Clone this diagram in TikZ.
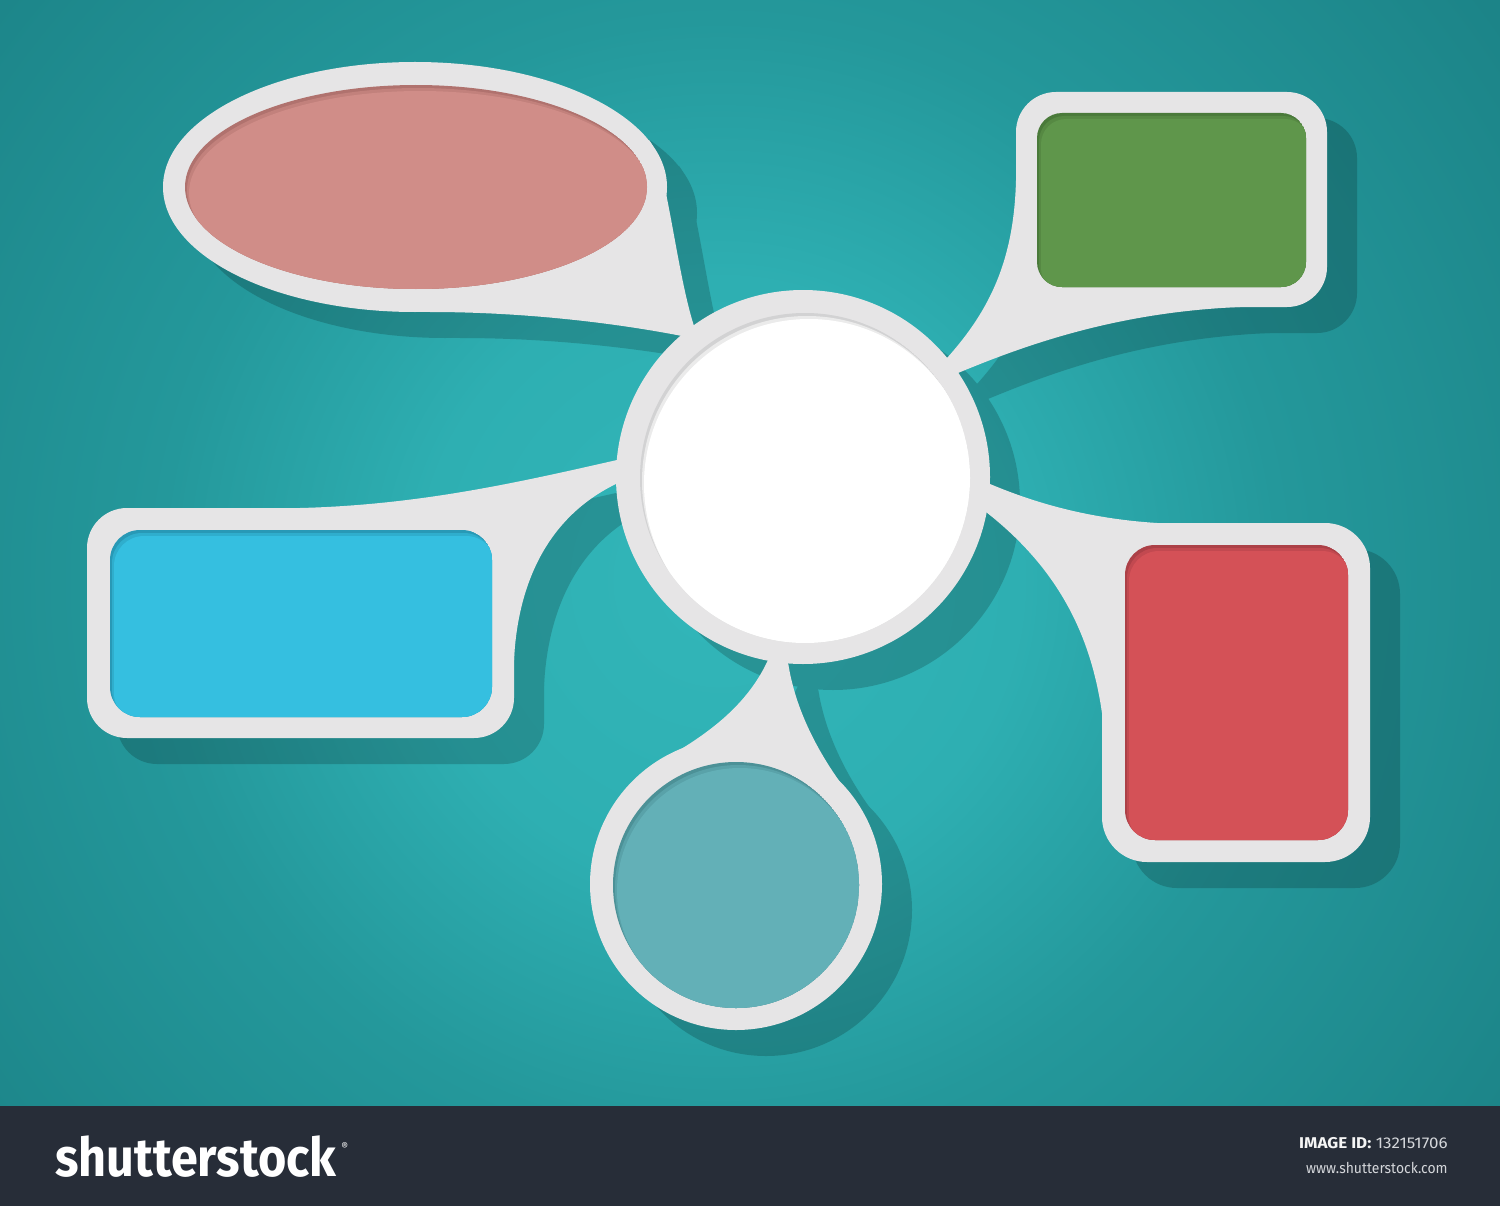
\documentclass[tikz,border=0pt]{standalone}
\usepackage{fontspec}
\setmainfont{Fira Sans}
\usepackage{graphicx}
\definecolor{bgC}{HTML}{32B6B9}
\definecolor{bgM}{HTML}{2EAFB2}
\definecolor{bgN}{HTML}{24989B}
\definecolor{bgE}{HTML}{1C8488}
\definecolor{ring}{HTML}{E6E5E6}
\definecolor{pinkF}{HTML}{D08D88}
\definecolor{pinkD}{HTML}{B0726E}
\definecolor{greenF}{HTML}{5F964B}
\definecolor{greenD}{HTML}{4A7A3A}
\definecolor{blueF}{HTML}{35BFE0}
\definecolor{blueD}{HTML}{2899B6}
\definecolor{redF}{HTML}{D45157}
\definecolor{redD}{HTML}{AC4047}
\definecolor{tealF}{HTML}{63B0B7}
\definecolor{tealD}{HTML}{4C9197}
\definecolor{whiteD}{HTML}{D2D2D3}
\definecolor{barC}{HTML}{272D38}
\definecolor{idgray}{HTML}{D4D6DA}
\pgfdeclareradialshading{bgshade}{\pgfpoint{0bp}{0bp}}{color(0bp)=(bgC); color(7.5bp)=(bgM); color(14bp)=(bgN); color(24bp)=(bgE); color(50bp)=(bgE)}
\newcommand\bubbles[1]{%
  \fill[#1] (803,477) circle (187);
  \fill[#1] (415,187) ellipse (252 and 125);
  \fill[#1,rounded corners=0.8cm] (1016,92) rectangle (1327,307);
  \fill[#1,rounded corners=0.8cm] (87,508) rectangle (514,738);
  \fill[#1,rounded corners=0.9cm] (1102,523) rectangle (1370,862);
  \fill[#1] (736,884) circle (146);
  % connector: ellipse -> centre
  \fill[#1] (649,140) .. controls (666,161) and (676,270) .. (694,326) -- (803,477) -- (682,336)
     .. controls (610,322) and (520,312) .. (430,312) -- (415,187) -- cycle;
  % connector: green box -> centre
  \fill[#1] (1016,180) .. controls (1014,260) and (990,310) .. (947,358) -- (803,477) -- (958,373)
     .. controls (1030,343) and (1120,312) .. (1240,307) -- (1170,200) -- cycle;
  % connector: blue box -> centre
  \fill[#1] (617,460) .. controls (520,482) and (420,505) .. (300,508) -- (300,620) -- (514,660)
     .. controls (518,580) and (550,515) .. (618,483) -- (803,477) -- cycle;
  % connector: red box -> centre
  \fill[#1] (990,484) .. controls (1040,505) and (1100,522) .. (1180,524) -- (1236,692) -- (1104,730)
     .. controls (1095,640) and (1060,570) .. (986,512) -- (803,477) -- cycle;
  % connector: bottom circle -> centre
  \fill[#1] (768,660) .. controls (745,710) and (700,740) .. (648,768) -- (736,884) -- (860,808)
     .. controls (820,760) and (795,710) .. (788,662) -- (803,477) -- cycle;
}
\newcommand\hole[3]{%
  \begin{scope}
    \clip #3;
    \fill[#1] #3;
    \fill[#2!55!#1, shift={(2,3)}] #3;
    \fill[#2, shift={(4,6)}] #3;
  \end{scope}}
\begin{document}
\begin{tikzpicture}[x=0.02cm,y=-0.02cm]
\useasboundingbox (0,0) rectangle (1500,1206);
% background
\begin{scope}
  \clip (0,0) rectangle (1500,1106);
  \fill[bgE] (0,0) rectangle (1500,1106);
  \shade[shading=bgshade] (720,580) circle (1000);
\end{scope}
% shadows
\begin{scope}[shift={(30,26)}, transparency group, opacity=0.18]
  \bubbles{black}
\end{scope}
% grey frames and connectors
\bubbles{ring}
% coloured insets
\hole{whiteD}{white}{(805,478) circle (165)}
\hole{pinkD}{pinkF}{(416,187) ellipse (231 and 102)}
\hole{greenD}{greenF}{[rounded corners=0.5cm] (1037,113) rectangle (1306,287)}
\hole{blueD}{blueF}{[rounded corners=0.6cm] (110,530) rectangle (492,717)}
\hole{redD}{redF}{[rounded corners=0.6cm] (1125,545) rectangle (1348,840)}
\hole{tealD}{tealF}{(736,885) circle (123)}
% bottom bar
\fill[barC] (0,1106) rectangle (1500,1206);
\node[anchor=south west, inner sep=0, text=white] (logo) at (55,1178)
  {\resizebox{160pt}{23.2pt}{\bfseries shutterstock}};
\node[anchor=west, inner sep=0, text=white, font=\fontsize{6}{7}\selectfont] (reg) at (341,1147) {®};
\node[anchor=south east, inner sep=0, text=idgray] (imgid) at (1448,1149)
  {\resizebox{84.5pt}{6.3pt}{\textbf{\color{white!92!gray}IMAGE ID:} 132151706}};
\node[anchor=south east, inner sep=0, text=idgray] (www) at (1448,1174)
  {\resizebox{80.5pt}{6.4pt}{www.shutterstock.com}};
\end{tikzpicture}
\end{document}
